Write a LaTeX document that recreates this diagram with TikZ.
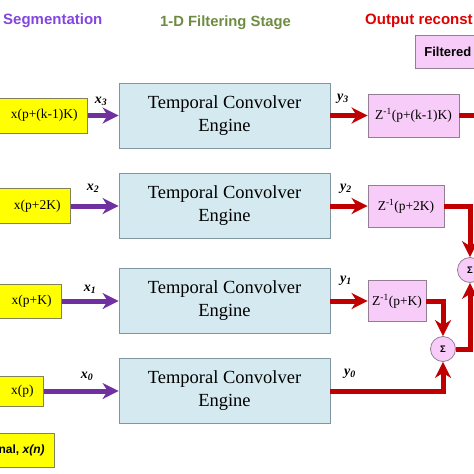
\documentclass[tikz,border=0pt]{standalone}
\usepackage{fontspec}
\setmainfont{Liberation Serif}
\setsansfont{Liberation Sans}
\usetikzlibrary{arrows.meta}

\definecolor{yel}{RGB}{255,255,0}
\definecolor{yelb}{RGB}{130,130,90}
\definecolor{tceb}{RGB}{213,234,240}
\definecolor{tced}{RGB}{128,150,160}
\definecolor{pnk}{RGB}{248,204,248}
\definecolor{pnkd}{RGB}{150,125,150}
\definecolor{purp}{RGB}{112,48,160}
\definecolor{redl}{RGB}{192,0,0}
\definecolor{segc}{RGB}{130,70,225}
\definecolor{filc}{RGB}{110,140,65}
\definecolor{outc}{RGB}{225,0,0}

\tikzset{
 ybox/.style={draw=yelb, fill=yel, line width=0.8pt, inner ysep=0pt, inner xsep=10pt, anchor=east,
   font=\fontsize{13.5}{16}\selectfont, execute at begin node={\hspace*{30pt}}},
 tcebox/.style={draw=tced, fill=tceb, line width=0.8pt, minimum width=211pt, minimum height=65pt,
   align=center, font=\fontsize{18.5}{23}\selectfont, inner sep=0pt},
 zbox/.style={draw=pnkd, fill=pnk, line width=0.8pt, inner sep=0pt, font=\fontsize{13.5}{16}\selectfont},
 fbox/.style={draw=pnkd, fill=pnk, line width=0.8pt, inner ysep=0pt, inner xsep=9pt, anchor=west,
   minimum height=33pt, font=\sffamily\bfseries\fontsize{13}{15}\selectfont},
 sig/.style={circle, draw=pnkd, fill=pnk, line width=0.8pt, minimum size=25pt, inner sep=0pt,
   font=\sffamily\bfseries\fontsize{9.5}{10}\selectfont},
 parr/.style={draw=purp, line width=5pt, -{Stealth[length=16pt,width=16pt,inset=5pt]}},
 rarr/.style={draw=redl, line width=5pt, -{Stealth[length=16pt,width=16pt,inset=5pt]}},
 rline/.style={draw=redl, line width=5pt},
 lab/.style={font=\bfseries\itshape\fontsize{14}{16}\selectfont, inner sep=0pt},
 ttl/.style={font=\sffamily\bfseries\fontsize{15}{18}\selectfont, anchor=base west, inner sep=0pt},
}

\begin{document}
\begin{tikzpicture}[x=1pt,y=-1pt]
\useasboundingbox (0,0) rectangle (474,474);
\clip (0,0) rectangle (474,474);

% titles
\node[ttl, text=segc] (tseg) at (3,24) {Segmentation};
\node[ttl, text=filc, font=\sffamily\bfseries\fontsize{14.8}{17}\selectfont] (tfil) at (160,26) {1-D Filtering Stage};
\node[ttl, text=outc] (tout) at (365,24) {Output reconst};
\node[fbox] (filt) at (415,51.5) {Filtered\hspace*{20pt}};

% input segments
\node[ybox, minimum height=35pt] (in1) at (88,115.5) {x(p+(k-1)K)};
\node[ybox, minimum height=35pt] (in2) at (71,206) {x(p+2K)};
\node[ybox, minimum height=34pt] (in3) at (62,301) {x(p+K)};
\node[ybox, minimum height=30pt] (in4) at (44,391) {x(p)};
\node[ybox, minimum height=34pt, font=\sffamily\bfseries\fontsize{12}{14}\selectfont] (insig) at (55,450) {nal, \textit{x(n)}};

% convolver engines
\node[tcebox] (tce1) at (224.5,115.5) {Temporal Convolver\\Engine};
\node[tcebox] (tce2) at (224.5,206) {Temporal Convolver\\Engine};
\node[tcebox] (tce3) at (224.5,301) {Temporal Convolver\\Engine};
\node[tcebox] (tce4) at (224.5,391) {Temporal Convolver\\Engine};

% delay boxes
\node[zbox, minimum width=91pt, minimum height=43pt] (z1) at (413.5,115.5) {Z\textsuperscript{-1}(p+(k-1)K)};
\node[zbox, minimum width=76pt, minimum height=42pt] (z2) at (406,206) {Z\textsuperscript{-1}(p+2K)};
\node[zbox, minimum width=58pt, minimum height=41pt] (z3) at (397,301) {Z\textsuperscript{-1}(p+K)};

% summers
\node[sig] (s1) at (443,349) {Σ};
\node[sig] (s2) at (470,270) {Σ};

\coordinate (o1) at (480,115.5);

% labels
\node[lab] (lx3) at (101,101) {x\textsubscript{3}};
\node[lab] (lx2) at (93,188) {x\textsubscript{2}};
\node[lab] (lx1) at (90,289) {x\textsubscript{1}};
\node[lab] (lx0) at (87,376) {x\textsubscript{0}};
\node[lab] (ly3) at (343,99) {y\textsubscript{3}};
\node[lab] (ly2) at (346,189) {y\textsubscript{2}};
\node[lab] (ly1) at (346,281) {y\textsubscript{1}};
\node[lab] (ly0) at (350,374) {y\textsubscript{0}};

% connectors
\draw[parr] (in1.east) -- (tce1.west);
\draw[parr] (in2.east) -- (tce2.west);
\draw[parr] (in3.east) -- (tce3.west);
\draw[parr] (in4.east) -- (tce4.west);
\draw[rarr] (tce1.east) -- (z1.west);
\draw[rarr] (tce2.east) -- (z2.west);
\draw[rarr] (tce3.east) -- (z3.west);
\draw[rline] (z1.east) -- (o1);
\draw[rarr] (z2.east) -| (s2.north);
\draw[rarr] (z3.east) -| (s1.north);
\draw[rarr] (tce4.east) -| (s1.south);
\draw[rarr] (s1.east) -| (s2.south);
\end{tikzpicture}
\end{document}
